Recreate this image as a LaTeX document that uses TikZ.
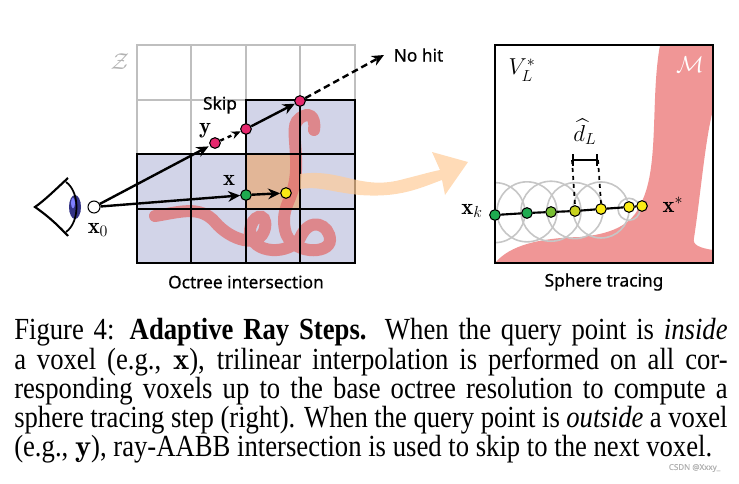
\documentclass[tikz,border=0pt]{standalone}
\usepackage{fontspec}
\usepackage{amsmath}
\newfontfamily\capfont[FakeStretch=0.87]{Liberation Serif}
\newfontfamily\lblfont[FakeBold=0.6]{Noto Sans}
\usetikzlibrary{arrows.meta}
\definecolor{vox}{RGB}{210,212,232}
\definecolor{snk}{RGB}{226,110,110}
\definecolor{pnk}{RGB}{240,150,150}
\definecolor{ptpink}{RGB}{230,40,110}
\definecolor{ptgreen}{RGB}{30,170,80}
\definecolor{ptlg}{RGB}{120,190,50}
\definecolor{ptyg}{RGB}{200,210,30}
\definecolor{ptyel}{RGB}{250,235,20}
\begin{document}
\begin{tikzpicture}[x=0.75pt,y=-0.75pt,
  pt/.style={circle,draw=black,line width=0.8pt,inner sep=0pt,minimum size=8pt},
  ray/.style={line width=1.8pt,-{Stealth[length=9pt,width=8pt]}},
  lbl/.style={font=\lblfont\fontsize{13}{15}\selectfont},
  math/.style={font=\fontsize{17}{18}\selectfont}]
\useasboundingbox (0,0) rectangle (739,483);
% voxel fills
\fill[vox] (137,154) rectangle (355,263);
\fill[vox] (246,100) rectangle (355,154);
\fill[orange!35!vox] (246,154) rectangle (300,209);
% grey grid
\draw[gray!50,line width=1.2pt] (137,45) rectangle (355,154);
\draw[gray!50,line width=1.2pt] (191,45)--(191,154) (246,45)--(246,100) (300,45)--(300,100) (137,100)--(246,100);
% snake
\draw[snk,opacity=0.75,line width=9pt,line cap=round]
  (155,216) .. controls (180,212) and (200,205) .. (215,222)
  .. controls (230,240) and (260,250) .. (265,228)
  .. controls (268,210) and (250,215) .. (250,232)
  .. controls (252,255) and (290,255) .. (300,238)
  .. controls (310,215) and (330,225) .. (330,240)
  .. controls (330,255) and (290,255) .. (285,230)
  .. controls (280,205) and (295,200) .. (296,170)
  .. controls (297,140) and (290,125) .. (300,118)
  .. controls (308,112) and (316,115) .. (314,130);
% black grid
\draw[black,line width=1.3pt] (137,154) rectangle (355,263) (246,100) rectangle (355,154);
\draw[black,line width=1.3pt] (137,209)--(355,209) (191,154)--(191,263) (246,154)--(246,263) (300,100)--(300,263);
\node[gray!60,math] (Z) at (120,62) {$\mathcal{Z}$};
% big orange arrow
\fill[orange!40,opacity=0.7] (300,174) .. controls (340,168) and (360,190) .. (400,180)
  .. controls (420,175) and (430,172) .. (440,170) -- (432,152) -- (468,162) -- (445,195)
  -- (442,180) .. controls (420,188) and (400,198) .. (360,195)
  .. controls (330,192) and (320,186) .. (300,189) -- cycle;
% eye
\draw[line width=1.6pt] (68,178) .. controls (55,190) and (45,200) .. (35,207) .. controls (45,214) and (55,222) .. (68,236);
\fill[blue!40!black!80] (75,207) ellipse (4.5pt and 9pt);
\fill[blue!50!white] (73,203) ellipse (1.5pt and 4pt);
\draw[line width=1.3pt] (66,182) .. controls (80,192) and (80,222) .. (66,232);
% points
\node[pt,fill=white,minimum size=9pt] (x0) at (94,207) {};
\node[pt,fill=ptpink] (y) at (215,143) {};
\node[pt,fill=ptpink] (p2) at (246,129) {};
\node[pt,fill=ptpink] (p3) at (300,101) {};
\node[pt,fill=ptgreen] (gx) at (246,195) {};
\node[pt,fill=ptyel] (yx) at (286,193) {};
\coordinate (nh) at (384,55);
\draw[ray,shorten >=1pt] (x0) -- (y);
\draw[ray] (x0) -- (gx);
\draw[ray] (gx) -- (yx);
\draw[line width=1.8pt,dashed,-{Stealth[length=7pt,width=6pt]}] (y) -- (p2);
\draw[ray] (p2) -- (p3);
\draw[line width=1.8pt,dash pattern=on 5pt off 3pt,-{Stealth[length=9pt,width=8pt]}] (p3) -- (nh);
\node[lbl,anchor=west] (nhl) at (389,55) {No hit};
\node[lbl,inner sep=1pt] (skip) at (220,105) {Skip};
\node[math,inner sep=1pt] (yl) at (205,131) {$\mathbf{y}$};
\node[math] (xl) at (229,180) {$\mathbf{x}$};
\node[math] (x0l) at (98,230) {$\mathbf{x}_0$};
\node[lbl] (oct) at (246,282) {Octree intersection};
% right panel
\begin{scope}
\clip (495,45) rectangle (713,263);
\fill[pnk] (660,45) .. controls (650,100) and (660,170) .. (640,205)
  .. controls (630,230) and (600,235) .. (580,237)
  .. controls (540,238) and (510,245) .. (495,263) -- (713,263) -- (713,250)
  .. controls (700,248) and (692,245) .. (694,238) .. controls (700,200) and (705,140) .. (713,110) -- (713,45) -- cycle;
\foreach \cx/\r in {495/30,527/30,551/30,575/28,601/28,629/11}
  \draw[gray!45,line width=1.2pt] (\cx,213-\cx*0.025+12) circle (\r*0.75pt);
\end{scope}
\draw[line width=1.3pt] (495,45) rectangle (713,263);
\node[pt,fill=ptgreen] (k) at (495,215) {};
\node[pt,fill=ptgreen] (s1) at (527,213) {};
\node[pt,fill=ptlg] (s2) at (551,212) {};
\node[pt,fill=ptyg] (s3) at (575,211) {};
\node[pt,fill=ptyel] (s4) at (601,209) {};
\node[pt,fill=ptyel] (s5) at (629,207) {};
\node[pt,fill=ptyel] (s6) at (642,206) {};
\draw[line width=1.6pt] (k)--(s1)--(s2)--(s3)--(s4)--(s5)--(s6);
\coordinate (b1) at (572,160); \coordinate (b2) at (598,160);
\draw[line width=1.5pt,|-|] (b1)--(b2);
\draw[line width=1.3pt,dashed] (b1)--(s3.north) (b2)--(s4.north);
\node[math,anchor=south,inner sep=0pt] (dl) at (585,145) {$\widehat{d}_L$};
\node[math] (vl) at (522,70) {$V_L^*$};
\node[white,math] (ml) at (690,65) {$\mathcal{M}$};
\node[math] (xs) at (673,205) {$\mathbf{x}^*$};
\node[math] (xk) at (472,211) {$\mathbf{x}_k$};
\node[lbl] (sph) at (604,282) {Sphere tracing};
% caption
\node[anchor=north west,inner sep=0pt,text width=535pt,align=justify,font=\capfont\fontsize{23}{20.25}\selectfont] (cap) at (14,318)
{Figure 4: \textbf{Adaptive Ray Steps.} When the query point is \textit{inside}\linebreak a voxel (e.g., $\mathbf{x}$), trilinear interpolation is performed on all cor-\linebreak responding voxels up to the base octree resolution to compute a\linebreak sphere tracing step (right). When the query point is \textit{outside} a voxel\linebreak (e.g., $\mathbf{y}$), ray-AABB intersection is used to skip to the next voxel.};
\node[gray!60,font=\lblfont\fontsize{6}{7}\selectfont,anchor=east] (wm) at (725,468) {CSDN @Xxxy\_};
\end{tikzpicture}
\end{document}
